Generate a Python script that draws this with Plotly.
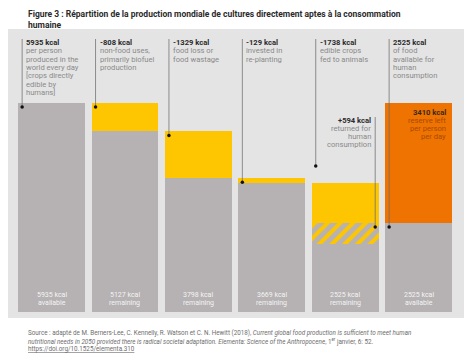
import plotly.graph_objects as go

# ---------------- data ----------------
steps = ["produced", "non-food", "loss", "replanting", "animals", "available"]
remaining = [5935, 5127, 3798, 3669, 2525, 2525]      # grey part (remaining kcal)
removed = [0, 808, 1329, 129, 1738, 0]                 # yellow part (kcal removed)
returned = [0, 0, 0, 0, 594, 0]                        # hatched part (returned)
reserve = [0, 0, 0, 0, 0, 3410]                        # orange part (reserve)

header_values = ["5935 kcal", "-808 kcal", "-1329 kcal", "-129 kcal", "-1738 kcal", "2525 kcal"]
header_texts = [
    ["per person", "produced in the", "world every day", "[crops directly", "edible by", "humans]"],
    ["non-food uses,", "primarily biofuel", "production"],
    ["food loss or", "food wastage"],
    ["invested in", "re-planting"],
    ["edible crops", "fed to animals"],
    ["of food", "available for", "human", "consumption"],
]
bottom_values = ["5935 kcal", "5127 kcal", "3798 kcal", "3669 kcal", "2525 kcal", "2525 kcal"]
bottom_words = ["available", "remaining", "remaining", "remaining", "remaining", "available"]
returned_label = ["+594 kcal", "returned for", "human", "consumption"]
reserve_label = ["3410 kcal", "reserve left", "per person", "per day"]

title_lines = ["Figure 3 : Répartition de la production mondiale de cultures directement aptes à la consommation",
               "humaine"]
source_lines = [
    "Source : adapté de M. Berners-Lee, C. Kennelly, R. Watson et C. N. Hewitt (2018), "
    "<i>Current global food production is sufficient to meet human</i>",
    "<i>nutritional needs in 2050 provided there is radical societal adaptation. Elementa: Science of the Anthropocene</i>, "
    "1<sup>er</sup> janvier, 6: 52.",
    "<u>https://doi.org/10.1525/elementa.310</u>",
]

# ---------------- layout geometry ----------------
OFF = 8                  # page body margin
W, H = 474 - OFF, 354 - OFF
GREY = "#b6b1b2"
YELLOW = "#fdc600"
ORANGE = "#ef7300"
PANEL = "#e4e4e4"
FONT = "Roboto"

PITCH = 73.4
X_MIN = -(51.5 - OFF) / PITCH
X_MAX = X_MIN + W / PITCH
Y0_PIX, YT_PIX = 312 - OFF, 103 - OFF
R = 5935 * H / (Y0_PIX - YT_PIX)
Y_MIN = -(H - Y0_PIX) / H * R
Y_MAX = Y_MIN + R
KPP = R / H

def px(p):            # reference pixel -> paper x
    return (p - OFF) / W

def py(p):            # reference pixel -> paper y
    return 1 - (p - OFF) / H

def dy(p):            # reference pixel -> data y
    return Y_MIN + (H - (p - OFF)) / H * R

xs = list(range(len(steps)))
grey_part = [r - ret for r, ret in zip(remaining, returned)]
yellow_part = [rm - ret for rm, ret in zip(removed, returned)]
BW = 0.91

fig = go.Figure()
fig.add_bar(x=xs, y=grey_part, width=BW, marker=dict(color=GREY, line=dict(width=0)))
fig.add_bar(x=xs, y=returned, width=BW,
            marker=dict(color=GREY, line=dict(width=0),
                        pattern=dict(shape="/", fgcolor=YELLOW, bgcolor=GREY, size=9,
                                     solidity=0.45, fgopacity=1)))
fig.add_bar(x=xs, y=yellow_part, width=BW, marker=dict(color=YELLOW, line=dict(width=0)))
fig.add_bar(x=xs, y=reserve, width=BW, marker=dict(color=ORANGE, line=dict(width=0)))

# pointer lines with dots
tops = [r + rm + rs for r, rm, rs in zip(remaining, removed, reserve)]
tops[5] = remaining[5]
off = 4 * KPP
lx = [i - 0.40 for i in xs]
ldot = [t - off for t in tops]
LINE_C = "rgba(110,110,110,0.75)"
for x, yd in zip(lx, ldot):
    fig.add_scatter(x=[x, x], y=[dy(39), yd], mode="lines",
                    line=dict(color=LINE_C, width=1), hoverinfo="skip")
rx = 4 + 0.41
fig.add_scatter(x=[rx, rx], y=[dy(117), remaining[4] - off], mode="lines",
                line=dict(color=LINE_C, width=1), hoverinfo="skip")
fig.add_scatter(x=lx + [rx], y=ldot + [remaining[4] - off], mode="markers",
                marker=dict(color="#111", size=3.5), hoverinfo="skip")

ann = []
def add_text(text, x, y, size=7.6, color="#333", anchor="left", xref="paper", yref="paper",
             yanchor="middle"):
    ann.append(dict(text=text, x=x, y=y, xref=xref, yref=yref, showarrow=False,
                    xanchor=anchor, yanchor=yanchor, borderpad=0, align=anchor if anchor != "center" else "center",
                    font=dict(family=FONT, size=size, color=color)))

# title (two lines, pinned to the top of the figure)
add_text("<br>".join("<b>" + t + "</b>" for t in title_lines), px(27), 1.0, size=8.5,
         color="#2a2a2a", yanchor="top")

# headers
LH = 8.3
for i in xs:
    hx = lx[i] + 3 / PITCH
    add_text("<b>" + header_values[i] + "</b>", hx, dy(42.5), color="#2b2b2b", xref="x", yref="y")
    for k, t in enumerate(header_texts[i]):
        add_text(t, hx, dy(42.5 + LH * (k + 1)), color="#8a8a8a", xref="x", yref="y")

# returned label (right aligned)
for k, t in enumerate(returned_label):
    add_text("<b>" + t + "</b>" if k == 0 else t, rx - 3 / PITCH, dy(120 + LH * k),
             color="#2b2b2b" if k == 0 else "#8a8a8a", anchor="right", xref="x", yref="y")
# reserve label (right aligned, inside orange bar)
for k, t in enumerate(reserve_label):
    add_text("<b>" + t + "</b>" if k == 0 else t, 5 + BW / 2 - 5 / PITCH, dy(112 + LH * k),
             color="#3a2a1a" if k == 0 else "#a94a00", anchor="right", xref="x", yref="y")

# bottom labels
for i in xs:
    add_text(bottom_values[i], i, dy(295), size=7, color="#f4f4f4", anchor="center", xref="x", yref="y")
    add_text(bottom_words[i], i, dy(302.5), size=7, color="#f4f4f4", anchor="center", xref="x", yref="y")

# source
for k, t in enumerate(source_lines):
    add_text(t, px(27), py(333 + 8 * k), size=6.3, color="#6e6e6e")

fig.update_layout(
    width=W, height=H, autosize=False,
    margin=dict(l=0, r=0, t=0, b=0),
    paper_bgcolor="white", plot_bgcolor="rgba(0,0,0,0)",
    barmode="stack", showlegend=False,
    xaxis=dict(range=[X_MIN, X_MAX], visible=False, fixedrange=True),
    yaxis=dict(range=[Y_MIN, Y_MAX], visible=False, fixedrange=True),
    annotations=ann,
    shapes=[dict(type="rect", xref="paper", yref="paper", x0=px(7), x1=px(464),
                 y0=py(318), y1=py(29), fillcolor=PANEL, line=dict(width=0), layer="below")],
)

fig.write_html("out.html")
